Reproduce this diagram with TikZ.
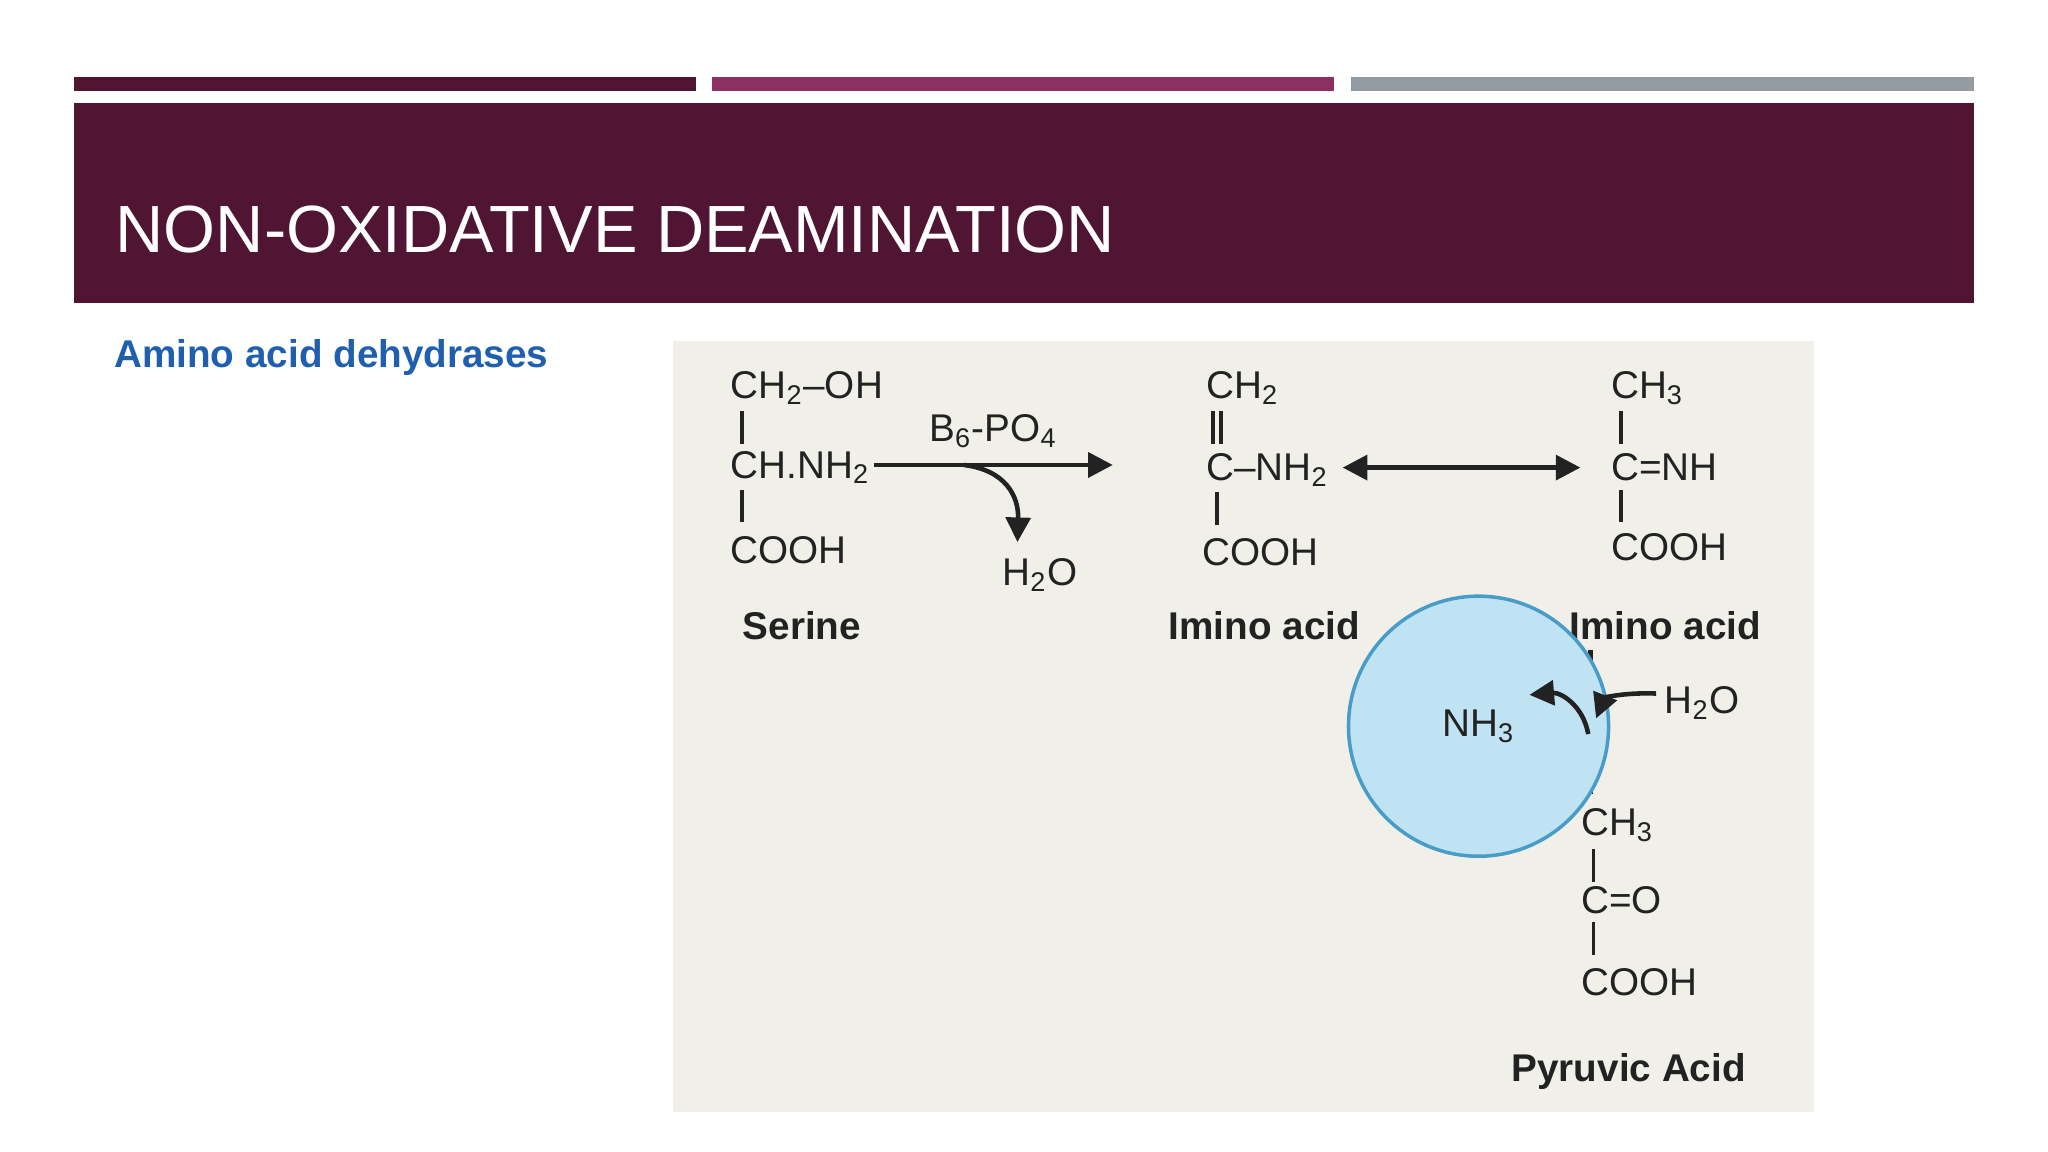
\documentclass[tikz,border=0pt]{standalone}
\usepackage{fontspec}
\setmainfont{Liberation Sans}
\usetikzlibrary{arrows.meta}
\definecolor{maroon}{HTML}{501532}
\definecolor{magen}{HTML}{8E2F62}
\definecolor{bgray}{HTML}{949CA3}
\definecolor{panel}{HTML}{F0F0E9}
\definecolor{tblue}{HTML}{1F5FAD}
\definecolor{cfill}{HTML}{BFE3F2}
\definecolor{cedge}{HTML}{4A9CC8}
\definecolor{ink}{HTML}{222222}
\tikzset{
  chem/.style={anchor=west,inner sep=0pt,font=\fontsize{11}{13}\selectfont,text=ink},
  lbl/.style={inner sep=0pt,font=\fontsize{11}{13}\selectfont\bfseries,text=ink},
  bond/.style={draw=ink,line width=1.1pt},
  rx/.style={draw=ink,line width=1.3pt,-{Triangle[length=7pt,width=7pt]}}
}
\newcommand{\sbs}[1]{\textsubscript{#1}}
\begin{document}
\begin{tikzpicture}[x=0.013061cm,y=-0.013061cm]
\useasboundingbox (0,0) rectangle (1568,882);
\fill[white] (0,0) rectangle (1568,882);
\fill[maroon] (57,59) rectangle (533,70);
\fill[magen] (545,59) rectangle (1021,70);
\fill[bgray] (1034,59) rectangle (1511,70);
\fill[maroon] (57,79) rectangle (1511,232);
\node[anchor=west,inner sep=0pt,text=white,font=\fontsize{19}{22}\selectfont] (title) at (88,176) {NON-OXIDATIVE DEAMINATION};
\node[anchor=west,inner sep=0pt,text=tblue,font=\fontsize{11}{13}\selectfont\bfseries] (sub) at (87,274) {Amino acid dehydrases};
\fill[panel] (515,261) rectangle (1389,851);
% Serine
\node[chem] (s1) at (559,297) {CH\sbs{2}–OH};
\node[chem] (s2) at (559,358) {CH.NH\sbs{2}};
\node[chem] (s3) at (559,421) {COOH};
\draw[bond] (568,315) -- (568,340);
\draw[bond] (568,375) -- (568,400);
\node[lbl] (sl) at (614,479) {Serine};
% reaction arrow
\coordinate (a1) at (669,356);
\coordinate (a2) at (852,356);
\draw[rx] (a1) -- (a2);
\node[chem] (b6) at (711,330) {B\sbs{6}-PO\sbs{4}};
\coordinate (c1) at (738,356);
\coordinate (c2) at (779,415);
\draw[rx] (c1) .. controls (770,360) and (780,380) .. (c2);
\node[chem] (w1) at (767,440) {H\sbs{2}O};
% Imino acid 1
\node[chem] (i1) at (923,297) {CH\sbs{2}};
\node[chem] (i2) at (923,360) {C–NH\sbs{2}};
\node[chem] (i3) at (920,423) {COOH};
\draw[bond] (929,315) -- (929,340);
\draw[bond] (935,315) -- (935,340);
\draw[bond] (932,377) -- (932,402);
\node[lbl] (il1) at (968,479) {Imino acid};
% double arrow
\coordinate (d1) at (1028,358);
\coordinate (d2) at (1210,358);
\draw[draw=ink,line width=1.3pt,{Triangle[length=7pt,width=7pt]}-{Triangle[length=7pt,width=7pt]}] (d1) -- (d2);
% Imino acid 2
\node[chem] (j1) at (1233,297) {CH\sbs{3}};
\node[chem] (j2) at (1233,358) {C=NH};
\node[chem] (j3) at (1233,419) {COOH};
\draw[bond] (1241,315) -- (1241,340);
\draw[bond] (1241,375) -- (1241,400);
\node[lbl] (il2) at (1275,479) {Imino acid};
% hydrolysis
\coordinate (v1) at (1218,498);
\coordinate (v2) at (1218,608);
\draw[draw=ink,line width=1.4pt] (v1) -- (v2);
\node[circle,draw=cedge,fill=cfill,line width=1pt,minimum size=74\pgflinewidth,inner sep=0pt,minimum width=1.93cm*0.5,font=\fontsize{11}{13}\selectfont,text=ink] (nh) at (1132,556) {NH\sbs{3}};
\coordinate (n1) at (1216,562);
\coordinate (n2) at (1171,532);
\draw[rx] (n1) .. controls (1212,540) and (1195,530) .. (n2);
\node[chem] (w2) at (1274,538) {H\sbs{2}O};
\coordinate (h1) at (1268,531);
\coordinate (h2) at (1222,550);
\draw[rx] (h1) .. controls (1240,530) and (1228,535) .. (h2);
% Pyruvic
\node[chem] (p1) at (1210,632) {CH\sbs{3}};
\node[chem] (p2) at (1210,689) {C=O};
\node[chem] (p3) at (1210,752) {COOH};
\draw[bond] (1220,650) -- (1220,675);
\draw[bond] (1220,706) -- (1220,731);
\node[lbl] (pl) at (1247,820) {Pyruvic Acid};
\end{tikzpicture}
\end{document}
